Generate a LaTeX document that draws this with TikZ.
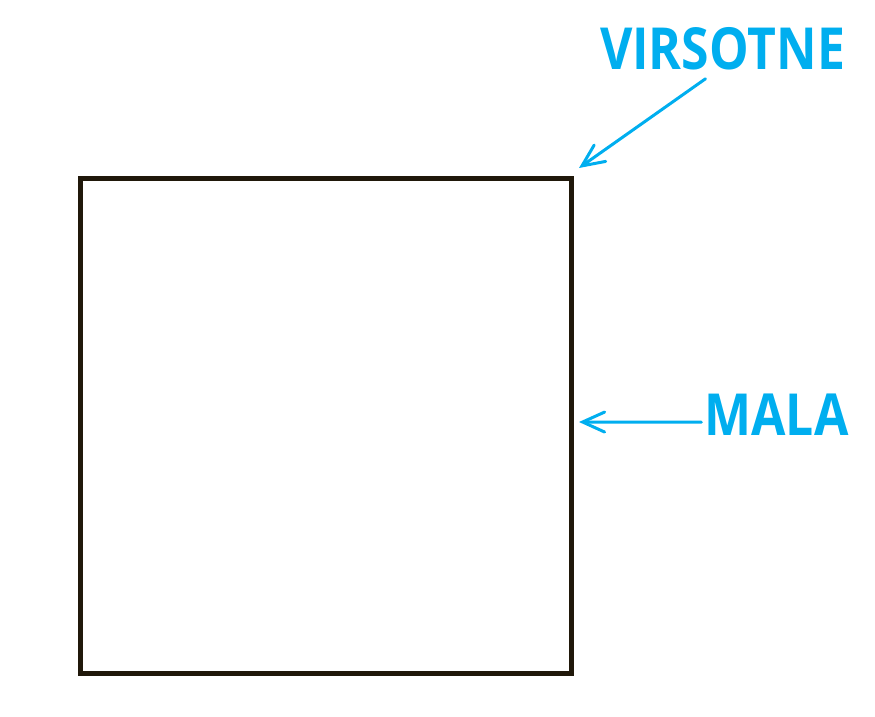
\documentclass[tikz,border=0pt]{standalone}
\usepackage{fontspec}
\setmainfont{Open Sans}
\newfontfamily\labelfont[FakeStretch=0.86]{Open Sans}
\usetikzlibrary{arrows.meta}
\definecolor{labelblue}{RGB}{0,174,239}
\definecolor{edgedark}{RGB}{32,24,10}

\begin{document}
\begin{tikzpicture}[x=1pt,y=1pt,
    lbl/.style={text=labelblue,font=\labelfont\bfseries\fontsize{58}{60}\selectfont,inner sep=0pt},
    pointer/.style={draw=labelblue,line width=3pt,line cap=round,-{Straight Barb[length=22pt,width=20pt,line cap=round]}}]
        \useasboundingbox (0,0) rectangle (875,716);
        \node[shape=rectangle,draw=edgedark,line width=5pt,minimum width=491pt,minimum height=494pt,outer sep=0pt] (kvadrat) at (325.5,290) {};
        \node[lbl,anchor=base] (virsotne) at (722.5,646) {VIRSOTNE};
        \node[lbl,anchor=base] (mala) at (776.5,281) {MALA};
        \draw[pointer] ([shift={(-17pt,-8pt)}]virsotne.south) -- ([shift={(8pt,11pt)}]kvadrat.north east);
        \draw[pointer] ([shift={(-3pt,-8pt)}]mala.west) -- ([shift={(8pt,4pt)}]kvadrat.east);
    \end{tikzpicture}
\end{document}
